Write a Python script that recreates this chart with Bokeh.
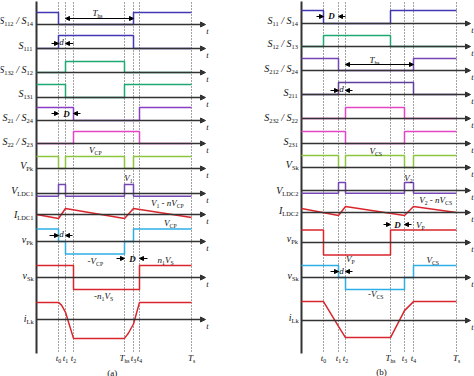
import re
from bokeh.plotting import figure
from bokeh.layouts import row
from bokeh.models import Range1d, Arrow, NormalHead, ColumnDataSource
from bokeh.embed import file_html
from bokeh.resources import INLINE
from bokeh.core.properties import value, field

FONT = "Liberation Serif"

# ======================= DATA =======================
# ---- panel (a): event instants on the time axis and their labels
A_TICK_LABELS = ["t_{0}", "t_{1}", "t_{2}", "T_{hs}", "t_{3}", "t_{4}", "T_{s}"]
A_TICK_TIMES = [22, 29, 37, 88, 97, 103, 155]
# step waveforms: switching instants + level held in each interval (1 high, 0 zero, -1 negative)
A_S112_S14 = ([0, 22, 97, 155], [1, 0, 1])
A_S111 = ([0, 22, 97, 155], [0, 1, 0])
A_S132_S12 = ([0, 29, 88, 155], [0, 1, 0])
A_S131 = ([0, 29, 88, 155], [1, 0, 1])
A_S21_S24 = ([0, 37, 103, 155], [1, 0, 1])
A_S22_S23 = ([0, 37, 103, 155], [0, 1, 0])
A_VPK = ([0, 22, 29, 88, 97, 155], [1, 0, 1, 0, 1])
A_VLDC1 = ([0, 22, 29, 88, 97, 155], [-0.3, 1, -0.3, 1, -0.3])
A_vPK = ([0, 22, 29, 88, 97, 155], [1, 0, -1, 0, 1])
A_vSK = ([0, 37, 103, 155], [1, -1, 1])
# piecewise-linear waveforms: time points + values
A_ILDC1 = ([0, 22, 29, 88, 97, 155], [0, -0.4, 0.6, -0.4, 0.6, -0.3])
A_iLK = ([0, 22, 25, 27, 29, 37, 88, 92, 97, 103, 155],
         [0.95, 0.95, 0.8, 0.6, 0.4, -1.05, -1.05, -0.75, -0.25, 0.95, 0.95])

# ---- panel (b)
B_TICK_LABELS = ["t_{0}", "t_{1}", "t_{2}", "T_{hs}", "t_{3}", "t_{4}", "T_{s}"]
B_TICK_TIMES = [22, 37, 44, 89, 103, 112, 155]
B_S11_S14 = ([0, 22, 89, 155], [1, 0, 1])
B_S12_S13 = ([0, 22, 89, 155], [0, 1, 0])
B_S212_S24 = ([0, 37, 112, 155], [1, 0, 1])
B_S211 = ([0, 37, 112, 155], [0, 1, 0])
B_S232_S22 = ([0, 44, 103, 155], [0, 1, 0])
B_S231 = ([0, 44, 103, 155], [1, 0, 1])
B_VSK = ([0, 37, 44, 103, 112, 155], [1, 0, 1, 0, 1])
B_VLDC2 = ([0, 37, 44, 103, 112, 155], [-0.35, 1, -0.35, 1, -0.35])
B_vPK = ([0, 22, 89, 155], [1, -1, 1])
B_vSK = ([0, 37, 44, 103, 112, 155], [1, 0, -1, 0, 1])
B_ILDC2 = ([0, 37, 44, 103, 112, 155], [0.4, -0.3, 0.6, -0.3, 0.6, 0])
B_iLK = ([0, 22, 37, 44, 89, 103, 112, 155],
         [1.05, 1.05, -0.33, -0.95, -0.95, 0.55, 1.05, 1.05])

# ======================= STYLE / LAYOUT =======================
BLUE = "#4338b4"
GREEN = "#1ea872"
VIOLET = "#8a3ec6"
PURPLE = "#7446b4"
DPURPLE = "#5e3f9c"
PINK = "#e246c4"
YGREEN = "#8cc63f"
RED = "#d9262c"
CYAN = "#2eaee6"
AXIS = "#333333"

# (label, kind, data, color, baseline_px, amplitude_px, label_y_px)
A_CHANNELS = [
    ("S_{112} / S_{14}", "step", A_S112_S14, BLUE, 24, 12, 20),
    ("S_{111}", "step", A_S111, BLUE, 48, 13, 45),
    ("S_{132} / S_{12}", "step", A_S132_S12, GREEN, 72, 11, 69),
    ("S_{131}", "step", A_S131, GREEN, 97, 13, 93),
    ("S_{21} / S_{24}", "step", A_S21_S24, VIOLET, 120, 13, 117),
    ("S_{22} / S_{23}", "step", A_S22_S23, PINK, 143, 12, 141),
    ("V_{Pk}", "step", A_VPK, YGREEN, 168, 12, 165),
    ("V_{LDC1}", "step", A_VLDC1, PURPLE, 193, 9, 190),
    ("I_{LDC1}", "lin", A_ILDC1, RED, 214, 10, 214),
    ("v_{Pk}", "step", A_vPK, CYAN, 241, 12.5, 239),
    ("v_{Sk}", "step", A_vSK, RED, 277, 12, 275),
    ("i_{Lk}", "lin", A_iLK, RED, 319, 18, 318),
]
B_CHANNELS = [
    ("S_{11} / S_{14}", "step", B_S11_S14, BLUE, 23, 13, 20),
    ("S_{12} / S_{13}", "step", B_S12_S13, GREEN, 46, 11, 43),
    ("S_{212} / S_{24}", "step", B_S212_S24, PURPLE, 70, 12, 68),
    ("S_{211}", "step", B_S211, DPURPLE, 94, 12, 92),
    ("S_{232} / S_{22}", "step", B_S232_S22, PINK, 118, 11, 117),
    ("S_{231}", "step", B_S231, PINK, 143, 12, 141),
    ("V_{Sk}", "step", B_VSK, YGREEN, 167, 12, 164),
    ("V_{LDC2}", "step", B_VLDC2, PURPLE, 190, 8, 190),
    ("I_{LDC2}", "lin", B_ILDC2, RED, 212, 10, 210),
    ("v_{Pk}", "step", B_vPK, RED, 242, 12.5, 238),
    ("v_{Sk}", "step", B_vSK, CYAN, 277, 12, 275),
    ("i_{Lk}", "lin", B_iLK, RED, 320, 18, 317),
]

# small pointer arrows (x_from, x_to, y) and double arrow (x1, x2, y)
A_POINTERS = [(15, 22, 43), (37, 29, 43), (15, 22, 113), (44, 37, 113),
              (13, 22, 235), (36, 29, 235), (80, 88, 258), (111, 103, 258)]
A_DOUBLE = (29, 97, 18)
B_POINTERS = [(15, 22, 16), (44, 37, 16), (29, 37, 90), (51, 44, 90),
              (82, 89, 224), (110, 103, 224), (29, 37, 271), (51, 44, 271)]
B_DOUBLE = (44, 112, 64)

# annotation texts (markup, x, y, style)
A_NOTES = [("T_{hs}", 61, 12, "italic"), ("d", 25, 41, "italic"), ("D", 30, 113, "bold italic"),
           ("V_{CP}", 59, 149, "italic"), ("V_{1}", 92, 177, "italic"),
           ("V_{1} - nV_{CP}", 131, 202, "italic"), ("V_{CP}", 134, 222, "italic"),
           ("d", 25, 233, "italic"), ("-V_{CP}", 59, 260, "italic"),
           ("D", 96, 258, "bold italic"), ("n_{1}V_{S}", 129, 259, "italic"),
           ("-n_{1}V_{S}", 67, 295, "italic")]
B_NOTES = [("D", 30, 15, "bold italic"), ("T_{hs}", 73, 59, "italic"), ("d", 40, 88, "italic"),
           ("V_{CS}", 74, 150, "italic"), ("V_{2}", 107, 177, "italic"),
           ("V_{2} - nV_{CS}", 134, 199, "italic"), ("D", 96, 224, "bold italic"),
           ("V_{P}", 119, 224, "italic"), ("V_{P}", 49, 258, "italic"), ("d", 40, 270, "italic"),
           ("V_{CS}", 131, 259, "italic"), ("-V_{CS}", 74, 293, "italic")]

WIDTHS = {' ': 250, '-': 333, '/': 278, '(': 333, ')': 333, 'A': 611, 'C': 667, 'D': 722,
          'I': 333, 'L': 556, 'P': 611, 'S': 500, 'T': 556, 'V': 611, 'a': 500, 'b': 500,
          'd': 500, 'h': 500, 'i': 278, 'k': 444, 'n': 500, 'p': 500, 's': 389, 't': 278, 'v': 444}


def tw(s, size):
    return sum(WIDTHS.get(c, 500) for c in s) * size / 1000.0


def parse(markup):
    parts, pos = [], 0
    for m in re.finditer(r"_\{([^}]*)\}", markup):
        if m.start() > pos:
            parts.append((markup[pos:m.start()], False))
        parts.append((m.group(1), True))
        pos = m.end()
    if pos < len(markup):
        parts.append((markup[pos:], False))
    return parts


class Texts:
    def __init__(self):
        self.d = dict(x=[], y=[], text=[], fs=[], style=[])

    def add(self, markup, x, y, size, align="left", style="italic", sub_style="normal"):
        sub = size * 0.64
        parts = parse(markup)
        total = sum(tw(t, sub if s else size) for t, s in parts)
        x0 = x - total if align == "right" else (x - total / 2 if align == "center" else x)
        for t, s in parts:
            fs = sub if s else size
            lead = len(t) - len(t.lstrip(" "))
            core = t.strip(" ")
            if core:
                self.d["x"].append(x0 + tw(" " * lead, fs))
                self.d["y"].append(y + (size * 0.34 if s else 0))
                self.d["text"].append(core)
                self.d["fs"].append(f"{fs:.1f}px")
                self.d["style"].append(sub_style if s else style)
            x0 += tw(t, fs)


def step_xy(edges, levels):
    xs, ys = [], []
    for i, lv in enumerate(levels):
        xs += [edges[i], edges[i + 1]]
        ys += [lv, lv]
    return xs, ys


def build_panel(axis_px, channels, tick_labels, tick_times, pointers, double, notes, caption):
    p = figure(width=237, height=376, x_range=Range1d(-axis_px, 237 - axis_px),
               y_range=Range1d(376, 0), output_backend="svg", toolbar_location=None,
               x_axis_type=None, y_axis_type=None, min_border=0)
    p.outline_line_color = None
    p.grid.visible = False
    p.background_fill_color = "white"
    p.border_fill_color = "white"

    # dotted event lines
    p.segment(x0=tick_times, y0=[2] * len(tick_times), x1=tick_times, y1=[351] * len(tick_times),
              line_color="#444444", line_width=1, line_dash="1 2")
    # vertical axis
    p.segment(x0=[0], y0=[1], x1=[0], y1=[353], line_color=AXIS, line_width=2)

    texts = Texts()
    for label, kind, (tx, vals), color, base, amp, ly in channels:
        p.add_layout(Arrow(end=NormalHead(size=5, fill_color=AXIS, line_color=AXIS),
                           x_start=0, y_start=base, x_end=169, y_end=base,
                           line_color=AXIS, line_width=1.4))
        texts.add("t", 171, base + 6, 8.5, align="center")
        if kind == "step":
            xs, ys = step_xy(tx, vals)
        else:
            xs, ys = list(tx), list(vals)
        p.line(x=xs, y=[base - v * amp for v in ys], line_color=color, line_width=1.5)
        texts.add(label, -3.5, ly, 10, align="right")

    for x1, x2, y in pointers:
        p.add_layout(Arrow(end=NormalHead(size=4, fill_color="black", line_color="black"),
                           x_start=x1, y_start=y, x_end=x2, y_end=y,
                           line_color="black", line_width=1))
    a, b, y = double
    p.add_layout(Arrow(start=NormalHead(size=4, fill_color="black", line_color="black"),
                       end=NormalHead(size=4, fill_color="black", line_color="black"),
                       x_start=a, y_start=y, x_end=b, y_end=y, line_color="black", line_width=1))

    for markup, x, y, st in notes:
        texts.add(markup, x, y, 9, align="center", style=st)
    for lab, t in zip(tick_labels, tick_times):
        texts.add(lab, t, 357, 9, align="center")
    texts.add(caption[0], caption[1], caption[2], 9, align="center", style="normal")

    src = ColumnDataSource(texts.d)
    p.text(x="x", y="y", text="text", source=src, text_font=value(FONT),
           text_font_size=field("fs"), text_font_style=field("style"),
           text_align="left", text_baseline="middle", text_color="#111111")
    return p


pa = build_panel(36, A_CHANNELS, A_TICK_LABELS, A_TICK_TIMES, A_POINTERS, A_DOUBLE, A_NOTES,
                 ("(a)", 76, 372))
pb = build_panel(64, B_CHANNELS, B_TICK_LABELS, B_TICK_TIMES, B_POINTERS, B_DOUBLE, B_NOTES,
                 ("(b)", 80, 371))

layout = row(pa, pb)
open("out.html", "w").write(file_html(layout, INLINE))
